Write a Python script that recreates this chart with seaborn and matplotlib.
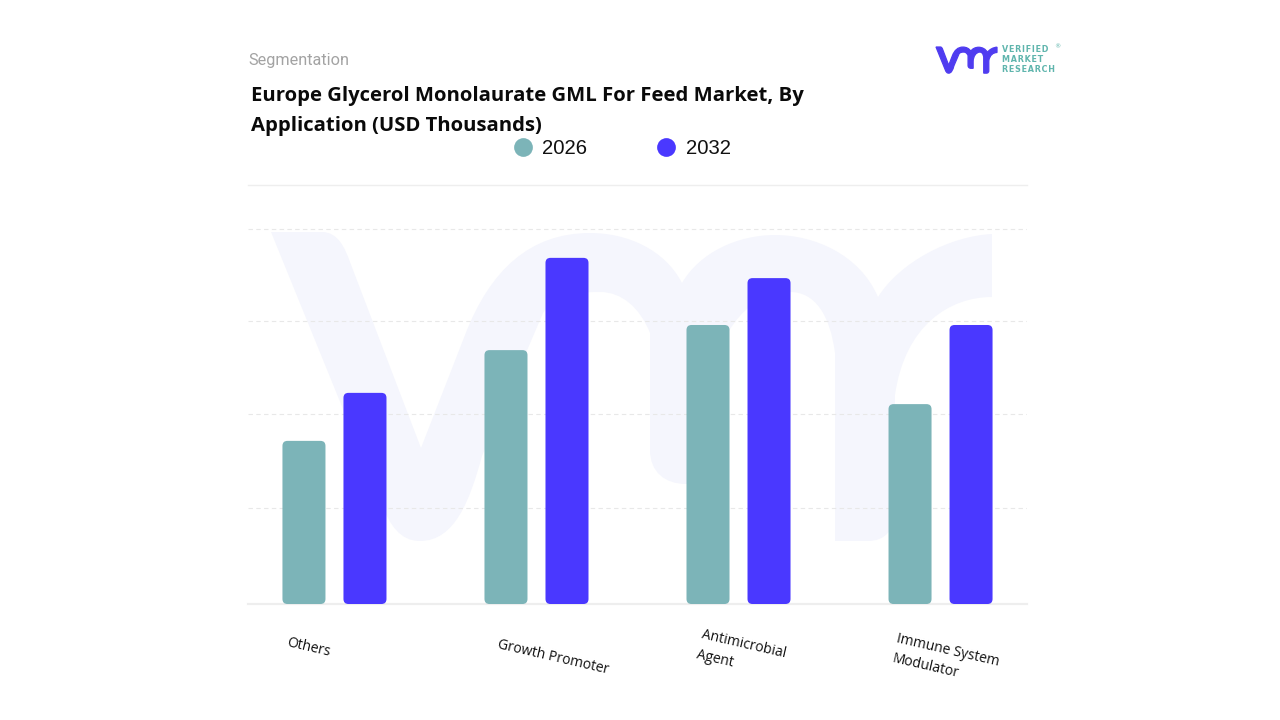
import matplotlib
matplotlib.use("Agg")
import matplotlib.pyplot as plt
import pandas as pd
import seaborn as sns
from matplotlib.lines import Line2D
from matplotlib.path import Path
from matplotlib.patches import FancyBboxPatch, PathPatch
from matplotlib.transforms import Affine2D, ScaledTranslation

categories = ["Others", "Growth Promoter", "Antimicrobial\nAgent", "Immune System\nModulator"]
years = ["2026", "2032"]
values_2026 = [43.5, 67.7, 74.4, 53.3]
values_2032 = [56.3, 92.3, 86.9, 74.4]
y_ticks = [0, 25.6, 50.7, 75.5, 100]
colors = {"2026": "#7cb4b8", "2032": "#4a38ff"}

W, H = 1280, 720
sns.set_theme(style="white")
fig = plt.figure(figsize=(W / 100, H / 100), dpi=100, facecolor="white")

# Background layer in pixel coordinates for the brand mark
bg = fig.add_axes([0, 0, 1, 1], zorder=0)
bg.set_xlim(0, W)
bg.set_ylim(H, 0)
bg.axis("off")

M, L, C, Z = Path.MOVETO, Path.LINETO, Path.CURVE4, Path.CLOSEPOLY
mark = [
    (M, (271, 232)), (L, (322, 232)),
    (C, (338, 232)), (C, (345, 248)), (C, (350, 262)),
    (L, (421, 448)), (L, (465, 335)),
    (C, (490, 270)), (C, (530, 233)), (C, (590, 233)),
    (C, (628, 233)), (C, (665, 250)), (C, (682, 283)),
    (C, (700, 252)), (C, (738, 235)), (C, (775, 235)),
    (C, (815, 235)), (C, (860, 255)), (C, (878, 297)),
    (C, (900, 262)), (C, (950, 236)), (C, (992, 234)),
    (L, (992, 297)),
    (C, (950, 297)), (C, (905, 325)), (C, (895, 395)),
    (L, (895, 510)),
    (C, (895, 530)), (C, (885, 541)), (C, (868, 541)),
    (L, (835, 541)), (L, (835, 353)),
    (C, (830, 315)), (C, (815, 292)), (C, (790, 292)),
    (C, (745, 292)), (C, (712, 340)), (C, (710, 400)),
    (L, (710, 484)), (L, (686, 484)),
    (C, (665, 484)), (C, (650, 472)), (C, (650, 450)),
    (L, (650, 333)),
    (C, (640, 308)), (C, (622, 292)), (C, (600, 292)),
    (C, (575, 292)), (C, (555, 295)), (C, (543, 313)),
    (L, (482, 456)),
    (C, (470, 500)), (C, (455, 541)), (C, (420, 541)),
    (C, (400, 541)), (C, (390, 525)), (C, (382, 505)),
    (L, (271, 232)), (Z, (271, 232)),
]
mark_path = Path([p for _, p in mark], [c for c, _ in mark])
bg.add_patch(PathPatch(mark_path, facecolor="#f5f6fd", edgecolor="none"))
logo_tf = Affine2D().translate(-271, -232).scale(61 / 721).translate(936, 47)
bg.add_patch(PathPatch(logo_tf.transform_path(mark_path), facecolor="#4f3cf0",
                       edgecolor="#4f3cf0", linewidth=0.9))

# Main chart axes
left, right, top, bottom = 248, 1027, 185, 604
ax = fig.add_axes([left / W, 1 - bottom / H, (right - left) / W, (bottom - top) / H], zorder=1)
ax.patch.set_alpha(0)

df = pd.DataFrame({
    "category": categories * 2,
    "year": [years[0]] * len(categories) + [years[1]] * len(categories),
    "value": values_2026 + values_2032,
})
sns.barplot(data=df, x="category", y="value", hue="year", hue_order=years,
            palette=colors, saturation=1, width=0.604, gap=0.295, legend=False, ax=ax, zorder=3)

ax.set_xlim(-0.428, 3.428)
ax.set_ylim(0, 111.73)

# Swap each seaborn bar for a rounded one of the same geometry
px_per_x = (right - left) / (ax.get_xlim()[1] - ax.get_xlim()[0])
px_per_y = (bottom - top) / ax.get_ylim()[1]
for bar in list(ax.patches):
    x, y, w, h = bar.get_x(), bar.get_y(), bar.get_width(), bar.get_height()
    col = bar.get_facecolor()
    bar.remove()
    ax.add_patch(FancyBboxPatch(
        (x, y), w, h, boxstyle=f"round,pad=0,rounding_size={5 / px_per_x}",
        mutation_aspect=px_per_x / px_per_y, facecolor=col, edgecolor="none", zorder=3))

ax.set_xlabel("")
ax.set_ylabel("")
ax.set_yticks(y_ticks)
ax.set_yticklabels([])
ax.grid(False)
ax.yaxis.grid(True, color="#e8e8e8", linestyle=(0, (4, 3)), linewidth=0.8, zorder=1)
ax.set_axisbelow(True)
for name, spine in ax.spines.items():
    spine.set_visible(name in ("top", "bottom"))
    spine.set_color("#eeeeee")
ax.spines["top"].set_linewidth(1.0)
ax.spines["bottom"].set_linewidth(1.6)
ax.tick_params(axis="both", length=0, pad=0)

# Category labels: slanted, offset individually as in the reference
label_offsets_px = [(-26, -44), (17, -53), (3, -50), (5, -56)]
ax.set_xticks(range(len(categories)))
ax.set_xticklabels(categories)
for lab, (dx, dy) in zip(ax.get_xticklabels(), label_offsets_px):
    lab.set(rotation=-13, rotation_mode="anchor", ha="center", va="center",
            multialignment="left", family="Open Sans", fontsize=10, color="#111111",
            linespacing=1.5)
    lab.set_transform(lab.get_transform() + ScaledTranslation(dx / 100, dy / 100, fig.dpi_scale_trans))

# Legend
handles = [Line2D([], [], linestyle="none", marker="o", markersize=13.5,
                  markerfacecolor=colors[y], markeredgecolor="none", label=y) for y in years]
fig.legend(handles=handles, ncol=2, loc="center left",
           bbox_to_anchor=(513 / W, 1 - 148.5 / H), bbox_transform=fig.transFigure,
           frameon=False, borderpad=0, borderaxespad=0, handlelength=1.0,
           handletextpad=0.45, columnspacing=3.4,
           prop={"family": "Liberation Sans", "size": 14.6}, labelcolor="#111111")

# Header text
fig.text(248 / W, 1 - 60 / H, "Segmentation", family="Roboto", fontsize=11.7,
         color="#a3a3a3", ha="left", va="center")
fig.text(251 / W, 1 - 111 / H,
         "Europe Glycerol Monolaurate GML For Feed Market, By\nApplication (USD Thousands)",
         family="Open Sans", fontweight="bold", fontsize=14.55, color="#0a0a0a",
         ha="left", va="center", linespacing=1.6)

# Logo wording
hair = "\u200a"
for txt, yy in zip(["VERIFIED", "MARKET", "RESEARCH"], [50, 59.5, 69]):
    fig.text(1002 / W, 1 - yy / H, hair.join(txt), family="DejaVu Sans", fontweight="bold",
             fontsize=5.8, color="#5fb5ad", ha="left", va="center")
fig.text(1057 / W, 1 - 47 / H, "®", family="DejaVu Sans", fontsize=4.5,
         color="#5fb5ad", ha="center", va="center")

fig.savefig("out.png", dpi=100, facecolor="white")
